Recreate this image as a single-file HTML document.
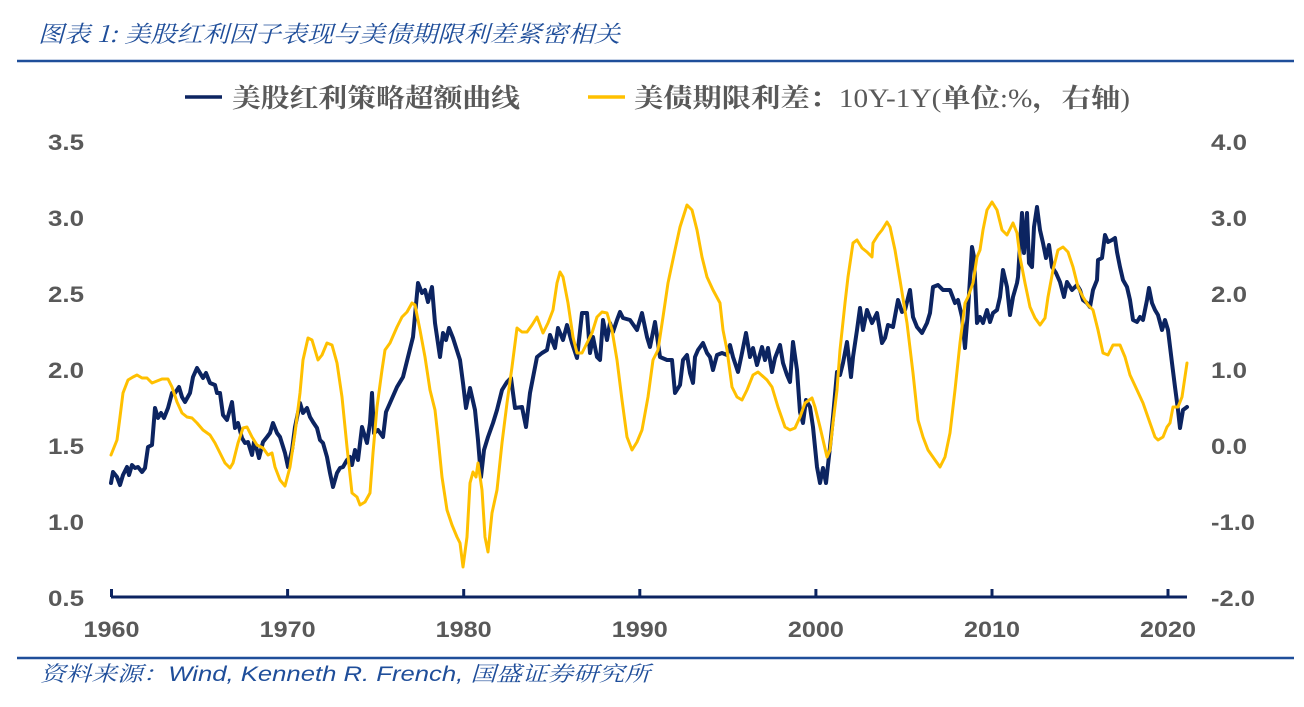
<!DOCTYPE html>
<html><head><meta charset="utf-8"><style>
html,body{margin:0;padding:0;background:#fff;}
svg{display:block;}
</style></head><body>
<svg width="1304" height="707" viewBox="0 0 1304 707" xmlns="http://www.w3.org/2000/svg">
<rect width="1304" height="707" fill="#fff"/>
<text x="38" y="42" font-family="'Noto Serif CJK SC','Liberation Serif',serif" font-style="italic" font-size="23" fill="#1F4E9A" textLength="582" lengthAdjust="spacingAndGlyphs">图表 1:  美股红利因子表现与美债期限利差紧密相关</text>
<line x1="17" y1="61" x2="1294" y2="61" stroke="#1F4E9A" stroke-width="2.5"/>
<line x1="185" y1="97" x2="222" y2="97" stroke="#0C2461" stroke-width="3.5"/>
<text x="232" y="107" font-family="'Noto Serif CJK SC','Liberation Serif',serif" font-weight="bold" font-size="26" fill="#595959" textLength="288" lengthAdjust="spacingAndGlyphs">美股红利策略超额曲线</text>
<line x1="588" y1="97" x2="625" y2="97" stroke="#FFC000" stroke-width="3.5"/>
<text x="634" y="107" font-family="'Noto Serif CJK SC','Liberation Serif',serif" font-weight="bold" font-size="26" fill="#595959" textLength="496" lengthAdjust="spacingAndGlyphs">美债期限利差：<tspan font-family="'Liberation Serif',serif" font-weight="normal">10Y-1Y(</tspan>单位<tspan font-family="'Liberation Serif',serif" font-weight="normal">:%</tspan>，右轴<tspan font-family="'Liberation Serif',serif" font-weight="normal">)</tspan></text>
<g font-family="'Liberation Sans',sans-serif" font-weight="bold" font-size="22" fill="#595959">
<text x="84" y="150" text-anchor="end" textLength="36" lengthAdjust="spacingAndGlyphs">3.5</text>
<text x="84" y="226" text-anchor="end" textLength="36" lengthAdjust="spacingAndGlyphs">3.0</text>
<text x="84" y="302" text-anchor="end" textLength="36" lengthAdjust="spacingAndGlyphs">2.5</text>
<text x="84" y="378" text-anchor="end" textLength="36" lengthAdjust="spacingAndGlyphs">2.0</text>
<text x="84" y="454" text-anchor="end" textLength="36" lengthAdjust="spacingAndGlyphs">1.5</text>
<text x="84" y="530" text-anchor="end" textLength="36" lengthAdjust="spacingAndGlyphs">1.0</text>
<text x="84" y="606" text-anchor="end" textLength="36" lengthAdjust="spacingAndGlyphs">0.5</text>
<text x="1211" y="150" textLength="36" lengthAdjust="spacingAndGlyphs">4.0</text>
<text x="1211" y="226" textLength="36" lengthAdjust="spacingAndGlyphs">3.0</text>
<text x="1211" y="302" textLength="36" lengthAdjust="spacingAndGlyphs">2.0</text>
<text x="1211" y="378" textLength="36" lengthAdjust="spacingAndGlyphs">1.0</text>
<text x="1211" y="454" textLength="36" lengthAdjust="spacingAndGlyphs">0.0</text>
<text x="1211" y="530" textLength="44" lengthAdjust="spacingAndGlyphs">-1.0</text>
<text x="1211" y="606" textLength="44" lengthAdjust="spacingAndGlyphs">-2.0</text>
<text x="111.5" y="637" text-anchor="middle" textLength="56" lengthAdjust="spacingAndGlyphs">1960</text>
<text x="287.6" y="637" text-anchor="middle" textLength="56" lengthAdjust="spacingAndGlyphs">1970</text>
<text x="463.7" y="637" text-anchor="middle" textLength="56" lengthAdjust="spacingAndGlyphs">1980</text>
<text x="639.8" y="637" text-anchor="middle" textLength="56" lengthAdjust="spacingAndGlyphs">1990</text>
<text x="815.9" y="637" text-anchor="middle" textLength="56" lengthAdjust="spacingAndGlyphs">2000</text>
<text x="992" y="637" text-anchor="middle" textLength="56" lengthAdjust="spacingAndGlyphs">2010</text>
<text x="1168" y="637" text-anchor="middle" textLength="56" lengthAdjust="spacingAndGlyphs">2020</text>
</g>
<g stroke="#0C2461" stroke-width="3">
<line x1="111" y1="597" x2="1187" y2="597"/>
<line x1="111.5" y1="589" x2="111.5" y2="597"/>
<line x1="287.6" y1="589" x2="287.6" y2="597"/>
<line x1="463.7" y1="589" x2="463.7" y2="597"/>
<line x1="639.8" y1="589" x2="639.8" y2="597"/>
<line x1="815.9" y1="589" x2="815.9" y2="597"/>
<line x1="992" y1="589" x2="992" y2="597"/>
<line x1="1168" y1="589" x2="1168" y2="597"/>
</g>
<polyline fill="none" stroke="#0C2461" stroke-width="4" stroke-linejoin="round" stroke-linecap="round" points="111,483 113,472 117,477 120,485 123,475 127,467 129,475 132,465 135,468 138,467 142,472 145,468 148,447 152,445 155,408 158,418 161,413 164,418 168,408 172,393 175,393 179,387 182,397 185,402 190,393 193,377 197,368 200,373 203,378 206,373 210,383 215,385 217,393 220,393 223,415 227,420 232,402 235,428 238,423 242,438 245,443 248,442 252,455 254,442 257,450 259,458 263,442 267,437 270,433 273,423 277,433 280,437 285,453 288,467 292,450 295,427 300,403 303,413 307,408 310,417 313,422 317,428 320,440 323,443 327,457 330,473 333,487 337,473 340,468 343,467 347,460 350,457 352,465 355,450 358,460 362,427 367,443 370,423 372,393 374,433 378,430 383,437 386,412 390,403 397,387 403,377 408,357 413,337 418,283 422,293 425,290 428,302 432,287 435,323 440,357 443,333 446,340 449,328 453,338 460,360 463,383 466,408 470,388 475,410 478,440 481,477 484,450 488,437 493,423 497,410 502,390 507,382 511,378 515,408 522,407 526,427 530,393 537,357 542,353 547,350 550,335 555,348 558,328 563,340 567,325 572,343 577,358 582,313 587,313 590,353 593,337 597,357 600,360 603,320 607,340 610,323 613,332 617,320 620,312 623,318 630,320 637,330 642,313 647,337 650,347 655,322 660,357 667,360 672,360 675,393 680,385 683,360 687,355 690,373 693,383 695,357 698,350 703,343 707,353 710,357 713,370 717,355 722,353 727,355 730,345 733,357 738,372 742,353 746,333 750,357 753,348 757,365 762,347 765,360 768,348 772,372 775,358 780,345 783,363 787,375 790,382 793,342 797,370 800,412 803,423 806,400 810,407 813,427 817,467 820,483 823,468 826,483 830,447 833,417 837,372 840,375 843,363 847,342 851,377 853,357 857,330 860,308 863,330 867,310 872,323 877,313 882,343 885,338 888,325 893,327 898,300 902,312 905,310 910,290 913,317 917,327 922,333 927,323 930,313 933,287 938,285 943,290 950,290 955,303 958,300 962,317 965,348 968,310 972,247 974,257 977,323 980,317 983,323 987,310 990,322 993,313 997,310 1000,297 1003,270 1007,287 1010,315 1013,297 1017,283 1018,277 1022,213 1024,253 1027,213 1029,263 1032,267 1034,227 1037,207 1040,230 1043,243 1046,258 1049,245 1052,267 1056,273 1060,282 1064,297 1067,282 1072,290 1077,285 1080,290 1083,300 1087,303 1090,307 1093,290 1097,280 1098,260 1102,258 1105,235 1108,242 1112,240 1115,238 1117,252 1120,267 1123,280 1127,287 1130,300 1133,320 1137,322 1140,317 1143,320 1147,300 1149,288 1152,303 1155,310 1158,315 1162,330 1165,320 1168,330 1172,363 1175,387 1178,410 1180,428 1183,410 1187,407"/>
<polyline fill="none" stroke="#FFC000" stroke-width="3" stroke-linejoin="round" stroke-linecap="round" points="111,455 117,440 120,417 123,393 128,380 133,377 137,375 142,378 147,378 152,383 157,381 162,379 168,379 172,387 177,402 182,413 187,417 192,418 197,423 203,430 210,435 215,443 220,453 225,463 230,468 233,463 238,443 243,428 247,427 252,437 257,445 263,448 268,455 272,453 275,467 280,480 285,486 290,467 295,433 300,393 303,360 308,338 312,340 315,350 318,360 322,355 327,343 332,345 337,363 342,397 347,447 352,493 357,497 360,505 365,502 370,493 373,453 377,407 382,370 385,350 390,343 397,327 402,317 407,312 412,303 415,305 420,330 425,357 430,390 435,410 438,437 442,477 447,510 452,525 457,537 460,543 463,567 467,537 470,483 473,472 476,477 478,463 482,490 485,537 488,552 492,513 497,490 502,443 507,403 512,367 517,328 522,332 527,332 532,325 537,317 540,325 543,333 548,323 553,310 557,283 560,272 563,277 568,303 573,337 577,353 582,353 587,343 592,333 597,317 602,312 607,313 612,330 617,360 622,400 627,437 632,450 637,442 642,430 648,397 653,360 658,350 663,317 668,283 675,250 680,227 687,205 692,210 697,230 702,257 707,277 713,290 720,303 723,330 727,350 732,387 737,397 742,400 747,390 753,375 758,372 767,380 772,387 778,407 785,427 790,430 795,428 800,417 805,403 812,398 815,407 820,427 827,457 830,450 833,423 837,390 840,350 845,303 848,277 853,243 857,240 862,248 867,252 872,257 873,243 878,235 882,230 887,222 890,227 895,250 900,280 907,323 913,373 918,420 923,437 928,450 935,460 940,467 945,457 950,433 955,390 960,343 965,303 968,297 973,283 977,257 980,250 983,230 987,210 992,202 997,210 1002,230 1007,235 1013,223 1017,233 1020,257 1025,283 1030,307 1035,318 1040,325 1045,318 1048,297 1053,270 1058,250 1063,247 1068,252 1073,267 1078,287 1083,297 1088,305 1093,310 1098,330 1103,353 1108,355 1113,345 1120,345 1125,357 1130,375 1137,390 1143,403 1150,423 1155,437 1158,440 1163,437 1167,427 1170,423 1173,407 1178,407 1182,397 1187,363"/>
<line x1="17" y1="658" x2="1294" y2="658" stroke="#1F4E9A" stroke-width="2.5"/>
<text x="40" y="681" font-family="'Liberation Sans','Noto Serif CJK SC',sans-serif" font-style="italic" font-size="21" fill="#1F4E9A" textLength="610" lengthAdjust="spacingAndGlyphs">资料来源：Wind, Kenneth R. French, 国盛证券研究所</text>
</svg>
</body></html>
